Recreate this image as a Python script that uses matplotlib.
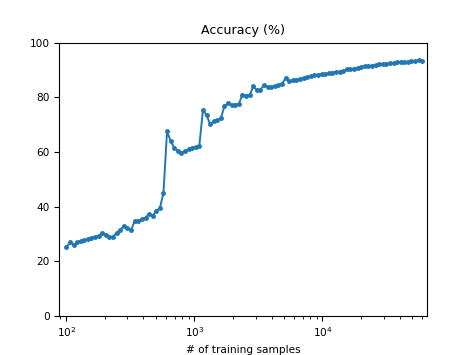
import matplotlib
matplotlib.use("Agg")
import matplotlib.pyplot as plt

# number of training samples (log-spaced, 100 to 60000)
n_samples = [100, 107, 114, 121, 130, 138, 147, 157, 168, 179,
             191, 204, 217, 232, 247, 264, 281, 300, 320, 342,
             364, 389, 415, 442, 472, 503, 537, 573, 611, 652,
             696, 742, 792, 844, 901, 961, 1024, 1092, 1165, 1243,
             1326, 1415, 1509, 1610, 1717, 1832, 1954, 2085, 2224, 2373,
             2531, 2700, 2881, 3073, 3278, 3497, 3731, 3980, 4246, 4529,
             4832, 5154, 5499, 5866, 6258, 6676, 7122, 7597, 8105, 8646,
             9223, 9839, 10496, 11197, 11945, 12743, 13594, 14502, 15471, 16504,
             17606, 18782, 20037, 21375, 22802, 24325, 25950, 27683, 29532, 31504,
             33608, 35853, 38247, 40802, 43527, 46434, 49535, 52843, 56373, 60000]

accuracy = [25.2, 27.0, 26.0, 27.0, 27.5, 27.8, 28.0, 28.5, 29.0, 29.3,
            30.4, 29.5, 29.0, 28.9, 30.5, 31.5, 33.0, 32.0, 31.3, 34.9,
            34.6, 35.5, 36.0, 37.3, 36.6, 38.5, 39.4, 45.0, 67.5, 64.0,
            61.5, 60.5, 59.7, 60.2, 61.0, 61.5, 61.7, 62.3, 75.2, 73.5,
            70.2, 71.2, 71.6, 72.4, 76.8, 77.8, 77.2, 77.3, 77.6, 81.0,
            80.6, 80.8, 84.0, 82.5, 82.8, 84.5, 83.6, 83.8, 84.0, 84.5,
            85.0, 87.0, 85.8, 86.2, 86.5, 86.8, 87.0, 87.3, 87.6, 88.1,
            88.3, 88.4, 88.5, 88.8, 89.0, 89.2, 89.4, 89.7, 90.2, 90.3,
            90.5, 90.8, 91.2, 91.3, 91.5, 91.6, 91.8, 92.0, 92.1, 92.3,
            92.4, 92.6, 92.8, 92.8, 92.9, 93.0, 93.2, 93.1, 93.5, 93.4]

plt.rcParams['font.size'] = 7.6

fig = plt.figure(figsize=(4.74, 3.55), dpi=100)
ax = fig.add_subplot(111)
ax.plot(n_samples, accuracy, marker='.', markersize=5, linewidth=1.4, color='C0')
ax.set_xscale('log')
ax.set_xlim(88, 65000)
ax.set_ylim(0, 100)
ax.set_title("Accuracy (%)")
ax.set_xlabel("# of training samples")

fig.savefig("out.png", dpi=100)
